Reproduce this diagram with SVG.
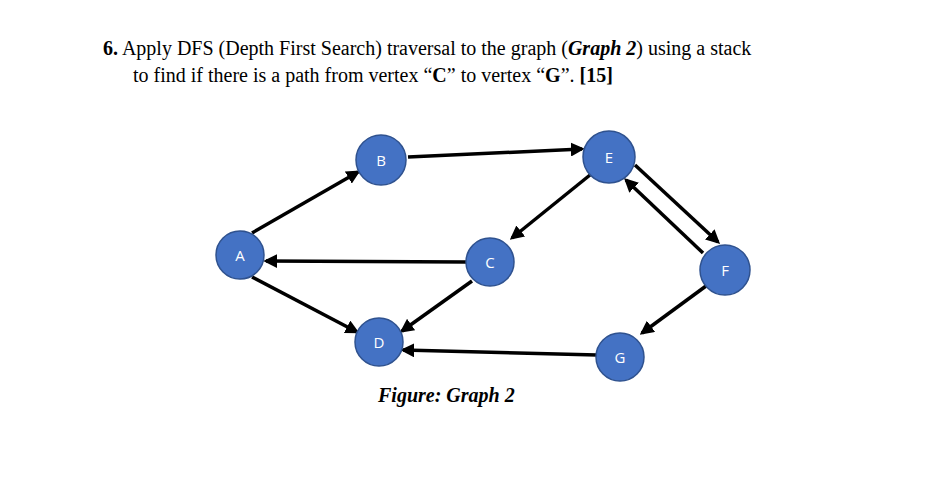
<svg xmlns="http://www.w3.org/2000/svg" width="928" height="487" viewBox="0 0 928 487">
<style>
.n{fill:#4472c4;stroke:#2f528f;stroke-width:1.5}
.l{font-family:"Open Sans","Liberation Sans",sans-serif;font-size:15px;fill:#fff;text-anchor:middle;dominant-baseline:central}
.e{stroke:#000;stroke-width:3.5;fill:none;marker-end:url(#ah)}
.t{font-family:"Liberation Serif",serif;font-size:20px;fill:#000}
</style>
<defs><marker id="ah" viewBox="0 0 10 10" refX="8" refY="5" markerWidth="4" markerHeight="4" orient="auto" markerUnits="strokeWidth"><path d="M0,0L10,5L0,10z" fill="#000"/></marker></defs>
<rect width="928" height="487" fill="#fff"/>
<text class="t" x="103" y="55"><tspan font-weight="bold">6.</tspan>  Apply DFS (Depth First Search) traversal to the graph (<tspan font-weight="bold" font-style="italic">Graph 2</tspan>) using a stack</text>
<text class="t" x="133" y="82">to find if there is a path from vertex “<tspan font-weight="bold">C</tspan>” to vertex “<tspan font-weight="bold">G</tspan>”. <tspan font-weight="bold">[15]</tspan></text>
<g id="edges">
<line class="e" x1="252" y1="233" x2="358" y2="172"/>
<line class="e" x1="408" y1="157" x2="582" y2="149"/>
<line class="e" x1="590" y1="175" x2="512" y2="238"/>
<line class="e" x1="466" y1="262" x2="266" y2="261"/>
<line class="e" x1="635" y1="165" x2="718" y2="242"/>
<line class="e" x1="703" y1="253" x2="626" y2="180"/>
<line class="e" x1="706" y1="286" x2="642" y2="333"/>
<line class="e" x1="252" y1="277" x2="357" y2="332"/>
<line class="e" x1="472" y1="281" x2="402" y2="331"/>
<line class="e" x1="597" y1="355" x2="403" y2="350"/>
</g>
<g id="A"><circle class="n" cx="240" cy="255" r="24"/><text class="l" x="240" y="255">A</text></g>
<g id="B"><circle class="n" cx="381" cy="160" r="25"/><text class="l" x="381" y="160">B</text></g>
<g id="E"><circle class="n" cx="609" cy="157" r="26"/><text class="l" x="609" y="157">E</text></g>
<g id="C"><circle class="n" cx="490" cy="262" r="24"/><text class="l" x="490" y="262">C</text></g>
<g id="F"><circle class="n" cx="725" cy="270" r="25"/><text class="l" x="725" y="270">F</text></g>
<g id="D"><circle class="n" cx="379" cy="342" r="24"/><text class="l" x="379" y="342">D</text></g>
<g id="G"><circle class="n" cx="620" cy="357" r="24"/><text class="l" x="620" y="357">G</text></g>
<text class="t" x="378" y="402" font-weight="bold" font-style="italic">Figure: Graph 2</text>
</svg>
